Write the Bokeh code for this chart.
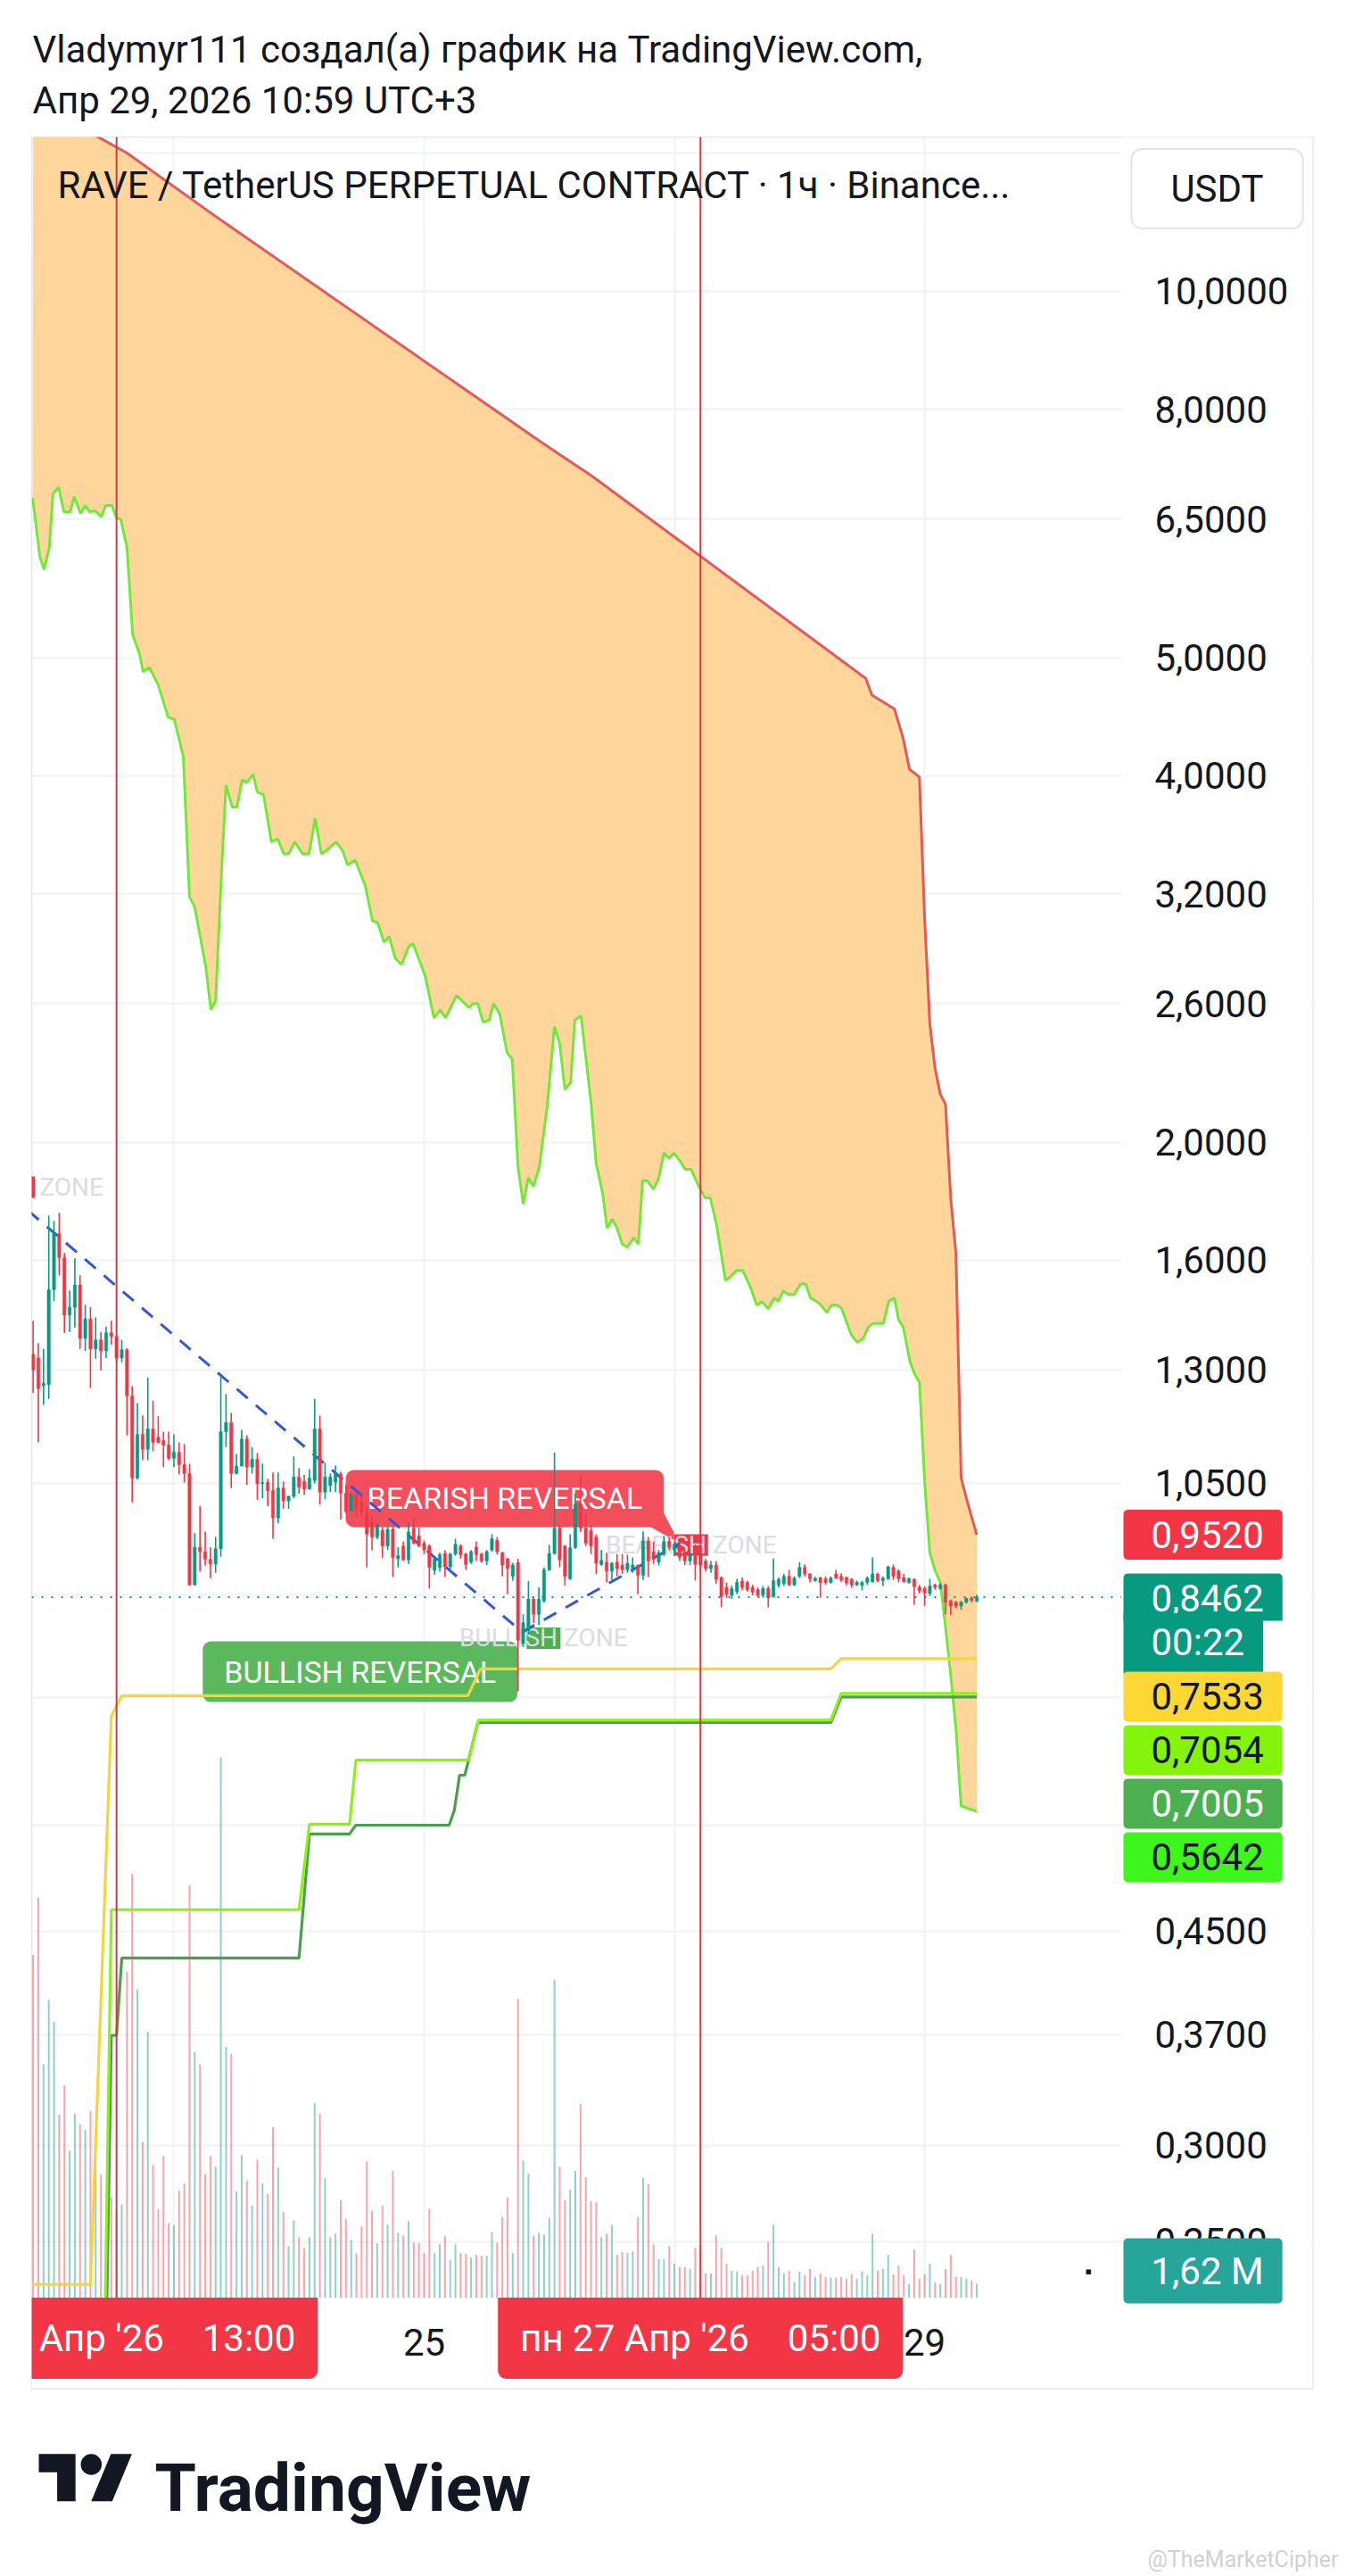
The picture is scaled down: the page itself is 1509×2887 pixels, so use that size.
import math, json
from bokeh.plotting import figure
from bokeh.models import (Range1d, LinearScale, FixedTicker, CustomJSTickFormatter,
                          Label, Spacer)
from bokeh.layouts import column, row
from bokeh.embed import file_html
from bokeh.resources import INLINE
from bokeh.core.properties import value

FONT = "Roboto"
INK = "#131722"
UP, DOWN = "#089981", "#f23645"

# ---------------- texts ----------------
header_lines = ["Vladymyr111 создал(а) график на TradingView.com,", "Апр 29, 2026 10:59 UTC+3"]
chart_title = "RAVE / TetherUS PERPETUAL CONTRACT · 1ч · Binance..."
currency = "USDT"
countdown = "00:22"
brand = "TradingView"
watermark = "@TheMarketCipher"

# ---------------- candles (1h), hours counted from Sat 25 Apr 2026 00:00 ----------------
first_hour = -75   # Tue 21 Apr 2026 21:00
opens = [1.339, 1.330, 1.262, 1.265, 1.513, 1.683, 1.608, 1.442, 1.464, 1.527,
         1.380, 1.432, 1.353, 1.376, 1.348, 1.395, 1.385, 1.330, 1.351, 1.238,
         1.060, 1.151, 1.119, 1.163, 1.145, 1.138, 1.128, 1.100, 1.113, 1.087,
         1.069, 0.866, 0.930, 0.922, 0.909, 0.901, 0.927, 1.157, 1.177, 1.069,
         1.084, 1.141, 1.082, 1.098, 1.049, 1.051, 1.035, 0.983, 1.040, 1.015,
         1.024, 1.062, 1.053, 1.038, 1.055, 1.163, 1.032, 1.045, 1.052, 1.068,
         1.030, 0.997, 1.027, 1.012, 0.990, 0.975, 0.948, 0.960, 0.932, 0.962,
         0.910, 0.932, 0.908, 0.964, 0.950, 0.937, 0.932, 0.890, 0.895, 0.919,
         0.896, 0.918, 0.932, 0.918, 0.904, 0.930, 0.918, 0.906, 0.925, 0.942,
         0.920, 0.910, 0.880, 0.903, 0.775, 0.794, 0.843, 0.819, 0.840, 0.891,
         0.919, 0.964, 0.932, 0.876, 0.929, 1.009, 0.964, 0.960, 0.948, 0.900,
         0.904, 0.889, 0.904, 0.899, 0.891, 0.893, 0.898, 0.882, 0.941, 0.922,
         0.904, 0.918, 0.940, 0.925, 0.932, 0.922, 0.906, 0.930, 0.918, 0.906,
         0.893, 0.899, 0.878, 0.862, 0.849, 0.855, 0.872, 0.870, 0.862, 0.858,
         0.849, 0.860, 0.847, 0.866, 0.868, 0.880, 0.866, 0.880, 0.895, 0.884,
         0.873, 0.878, 0.876, 0.870, 0.884, 0.880, 0.878, 0.875, 0.866, 0.865,
         0.870, 0.871, 0.884, 0.873, 0.876, 0.895, 0.889, 0.878, 0.870, 0.875,
         0.862, 0.860, 0.852, 0.866, 0.860, 0.866, 0.840, 0.838, 0.832, 0.838,
         0.845, 0.840]
highs = [1.427, 1.368, 1.353, 1.741, 1.724, 1.750, 1.622, 1.511, 1.606, 1.555,
         1.471, 1.464, 1.436, 1.397, 1.411, 1.427, 1.387, 1.376, 1.355, 1.261,
         1.221, 1.193, 1.282, 1.227, 1.191, 1.157, 1.157, 1.151, 1.134, 1.130,
         1.089, 0.955, 1.005, 0.958, 0.930, 0.948, 1.287, 1.242, 1.199, 1.109,
         1.161, 1.149, 1.124, 1.111, 1.089, 1.058, 1.071, 1.071, 1.053, 1.025,
         1.104, 1.080, 1.066, 1.078, 1.231, 1.193, 1.091, 1.069, 1.085, 1.073,
         1.046, 1.030, 1.030, 1.025, 1.006, 0.988, 0.973, 0.966, 0.970, 0.966,
         0.930, 0.940, 0.974, 0.983, 0.966, 0.942, 0.935, 0.911, 0.920, 0.925,
         0.920, 0.945, 0.935, 0.920, 0.925, 0.940, 0.920, 0.925, 0.953, 0.948,
         0.922, 0.911, 0.903, 0.910, 0.819, 0.872, 0.847, 0.862, 0.895, 0.934,
         1.112, 0.970, 0.934, 0.953, 1.029, 1.064, 0.990, 0.970, 0.953, 0.925,
         0.920, 0.904, 0.918, 0.918, 0.917, 0.912, 0.900, 0.958, 0.948, 0.940,
         0.925, 0.950, 0.948, 0.938, 0.937, 0.925, 0.922, 0.935, 0.925, 0.910,
         0.906, 0.906, 0.880, 0.870, 0.865, 0.876, 0.878, 0.873, 0.866, 0.862,
         0.864, 0.864, 0.910, 0.878, 0.884, 0.891, 0.880, 0.904, 0.900, 0.885,
         0.879, 0.879, 0.880, 0.880, 0.891, 0.885, 0.880, 0.877, 0.873, 0.872,
         0.880, 0.912, 0.886, 0.880, 0.898, 0.900, 0.892, 0.884, 0.878, 0.877,
         0.866, 0.864, 0.876, 0.868, 0.869, 0.868, 0.842, 0.840, 0.840, 0.845,
         0.847, 0.850]
lows = [1.245, 1.134, 1.217, 1.231, 1.481, 1.555, 1.394, 1.397, 1.409, 1.353,
        1.348, 1.256, 1.328, 1.299, 1.330, 1.364, 1.319, 1.319, 1.149, 1.012,
        1.057, 1.096, 1.096, 1.115, 1.132, 1.082, 1.096, 1.082, 1.067, 1.051,
        0.865, 0.865, 0.888, 0.898, 0.877, 0.886, 0.913, 1.124, 1.040, 1.067,
        1.084, 1.046, 1.069, 1.017, 1.020, 1.005, 0.945, 0.973, 1.000, 1.000,
        1.020, 1.029, 1.027, 1.037, 1.049, 1.008, 1.018, 1.032, 1.032, 0.980,
        0.992, 0.995, 0.986, 0.986, 0.895, 0.925, 0.944, 0.911, 0.925, 0.879,
        0.895, 0.906, 0.901, 0.935, 0.930, 0.918, 0.860, 0.883, 0.888, 0.879,
        0.891, 0.915, 0.910, 0.891, 0.901, 0.906, 0.903, 0.899, 0.922, 0.917,
        0.880, 0.851, 0.873, 0.708, 0.770, 0.788, 0.806, 0.803, 0.837, 0.889,
        0.917, 0.895, 0.865, 0.874, 0.927, 0.957, 0.932, 0.918, 0.884, 0.898,
        0.870, 0.874, 0.880, 0.884, 0.886, 0.886, 0.851, 0.874, 0.879, 0.901,
        0.898, 0.914, 0.925, 0.914, 0.906, 0.899, 0.899, 0.873, 0.888, 0.888,
        0.886, 0.868, 0.830, 0.845, 0.843, 0.851, 0.857, 0.855, 0.849, 0.846,
        0.845, 0.830, 0.845, 0.862, 0.864, 0.864, 0.864, 0.877, 0.880, 0.870,
        0.871, 0.845, 0.866, 0.868, 0.876, 0.871, 0.865, 0.862, 0.864, 0.857,
        0.866, 0.870, 0.870, 0.864, 0.874, 0.874, 0.870, 0.870, 0.868, 0.834,
        0.852, 0.832, 0.848, 0.858, 0.858, 0.819, 0.818, 0.828, 0.826, 0.836,
        0.838, 0.838]
closes = [1.300, 1.255, 1.268, 1.513, 1.683, 1.608, 1.442, 1.464, 1.527, 1.380,
          1.432, 1.353, 1.376, 1.348, 1.395, 1.385, 1.330, 1.351, 1.238, 1.060,
          1.151, 1.119, 1.163, 1.134, 1.134, 1.128, 1.100, 1.113, 1.087, 1.069,
          0.866, 0.930, 0.922, 0.909, 0.901, 0.927, 1.157, 1.177, 1.069, 1.084,
          1.141, 1.082, 1.098, 1.049, 1.051, 1.035, 0.983, 1.040, 1.015, 1.024,
          1.062, 1.042, 1.038, 1.060, 1.163, 1.032, 1.062, 1.062, 1.068, 1.030,
          0.995, 1.027, 1.002, 0.995, 0.953, 0.948, 0.970, 0.932, 0.962, 0.912,
          0.915, 0.908, 0.957, 0.937, 0.932, 0.925, 0.895, 0.909, 0.917, 0.896,
          0.918, 0.935, 0.917, 0.900, 0.922, 0.917, 0.906, 0.922, 0.945, 0.922,
          0.899, 0.893, 0.899, 0.780, 0.806, 0.843, 0.819, 0.843, 0.891, 0.919,
          0.964, 0.908, 0.880, 0.929, 1.009, 0.964, 0.937, 0.932, 0.902, 0.907,
          0.889, 0.902, 0.893, 0.891, 0.902, 0.899, 0.882, 0.941, 0.906, 0.909,
          0.920, 0.940, 0.930, 0.935, 0.912, 0.906, 0.918, 0.900, 0.899, 0.893,
          0.899, 0.875, 0.847, 0.851, 0.860, 0.870, 0.862, 0.858, 0.854, 0.849,
          0.860, 0.845, 0.873, 0.875, 0.880, 0.866, 0.877, 0.895, 0.884, 0.876,
          0.877, 0.870, 0.870, 0.877, 0.877, 0.874, 0.869, 0.866, 0.870, 0.870,
          0.877, 0.884, 0.873, 0.877, 0.896, 0.880, 0.876, 0.871, 0.876, 0.863,
          0.856, 0.853, 0.864, 0.862, 0.866, 0.838, 0.832, 0.832, 0.838, 0.844,
          0.841, 0.8462]
volume_m = [38.9, 45.4, 26.5, 33.8, 31.3, 20.8, 24.1, 16.7, 20.9, 19.7,
            19.1, 21.2, 15.7, 14.0, 6.7, 11.4, 10.0, 10.6, 37.0, 48.1,
            35.0, 17.7, 30.2, 15.1, 10.1, 16.1, 8.5, 8.3, 12.2, 13.0,
            46.8, 27.9, 26.5, 14.0, 16.1, 14.9, 61.3, 28.5, 27.7, 12.1,
            16.2, 13.3, 10.5, 15.7, 13.0, 11.8, 19.4, 14.8, 9.8, 5.9,
            8.8, 6.9, 5.7, 6.9, 22.1, 20.9, 13.6, 6.9, 7.3, 11.1,
            9.0, 6.6, 5.1, 8.1, 15.5, 9.9, 6.2, 10.5, 8.3, 14.4,
            7.4, 7.1, 8.7, 6.3, 6.2, 5.1, 10.1, 5.1, 6.1, 7.0,
            4.3, 6.1, 5.1, 5.0, 4.6, 4.9, 4.8, 4.8, 7.5, 6.3,
            9.2, 11.4, 5.1, 33.9, 15.6, 14.1, 7.1, 7.4, 7.2, 9.1,
            36.1, 14.9, 11.1, 12.3, 14.4, 22.0, 13.7, 11.0, 10.9, 6.9,
            7.3, 8.3, 4.9, 5.2, 5.1, 5.3, 9.2, 13.6, 12.9, 6.1,
            4.4, 4.4, 5.9, 3.9, 3.5, 3.5, 3.3, 5.7, 5.9, 2.8,
            2.8, 7.1, 5.7, 3.9, 3.1, 3.0, 2.6, 2.6, 3.1, 3.5,
            3.7, 6.4, 8.3, 3.5, 2.8, 3.1, 1.8, 3.0, 2.6, 3.3,
            2.4, 2.8, 2.4, 2.3, 2.3, 2.4, 2.2, 2.7, 2.2, 3.0,
            2.6, 7.3, 3.1, 3.3, 4.9, 2.7, 3.7, 2.6, 1.6, 5.5,
            2.2, 2.7, 3.9, 1.8, 1.6, 3.3, 4.9, 2.4, 2.4, 2.2,
            2.0, 1.62]
hours = [first_hour + i for i in range(len(closes))]

# ---------------- indicator lines (hour, price) ----------------
cloud_upper = [(-75, 14.3), (-63.5, 13.46), (-57, 12.99), (-40.2, 11.54), (22.2, 7.53),
               (32, 7.06), (84.7, 4.81), (85.9, 4.66), (90.2, 4.54), (91.9, 4.29),
               (93.1, 4.05), (95, 3.99), (96, 3.05), (97, 2.50), (98, 2.30), (99, 2.19),
               (100, 2.15), (101, 1.80), (102, 1.62), (103, 1.06), (104, 1.02),
               (105, 0.985), (106, 0.952)]
cloud_lower = [(-75.1, 6.77), (-73.7, 6.05), (-72.9, 5.91), (-71.9, 6.16), (-71.2, 6.82),
               (-70.1, 6.90), (-69.1, 6.59), (-67.9, 6.59), (-67.1, 6.78), (-65.9, 6.57),
               (-65.0, 6.67), (-64.2, 6.59), (-63.1, 6.60), (-61.9, 6.53), (-61.1, 6.67),
               (-59.9, 6.67), (-59.0, 6.51), (-58.2, 6.50), (-57.0, 6.16), (-55.9, 5.22),
               (-54.6, 5.04), (-53.9, 4.87), (-52.7, 4.91), (-51.0, 4.75), (-49.1, 4.47),
               (-47.9, 4.45), (-46.2, 4.15), (-45.0, 3.18), (-44.0, 3.12), (-41.9, 2.79),
               (-40.9, 2.57), (-40.0, 2.61), (-38.8, 3.38), (-38.0, 3.93), (-36.8, 3.77),
               (-35.9, 3.77), (-34.9, 3.97), (-34.0, 3.95), (-32.8, 4.01), (-32.0, 3.88),
               (-30.8, 3.86), (-29.3, 3.53), (-28.1, 3.55), (-26.9, 3.45), (-26.0, 3.45),
               (-24.8, 3.53), (-23.3, 3.45), (-22.1, 3.45), (-20.9, 3.69), (-19.7, 3.45),
               (-18.5, 3.48), (-16.9, 3.53), (-15.6, 3.47), (-14.7, 3.38), (-13.2, 3.41),
               (-11.3, 3.25), (-9.9, 3.04), (-8.9, 3.03), (-7.7, 2.92), (-6.7, 2.95),
               (-5.5, 2.83), (-4.3, 2.80), (-2.9, 2.90), (-2.1, 2.91), (0.2, 2.74),
               (1.9, 2.53), (3.1, 2.57), (4.1, 2.53), (6.2, 2.64), (7.4, 2.61),
               (8.6, 2.58), (9.4, 2.60), (10.3, 2.60), (11.3, 2.51), (12.5, 2.52),
               (13.3, 2.60), (14.5, 2.55), (15.9, 2.37), (16.9, 2.34), (18.0, 1.91),
               (19.0, 1.78), (20.0, 1.87), (21.0, 1.84), (22.1, 1.91), (23.6, 2.14),
               (25.0, 2.49), (26.0, 2.41), (27.0, 2.21), (28.1, 2.24), (28.9, 2.52),
               (30.1, 2.54), (32.0, 2.16), (33.0, 1.92), (34.2, 1.82), (35.1, 1.70),
               (36.1, 1.73), (37.0, 1.70), (38.0, 1.65), (39.0, 1.64), (40.2, 1.67),
               (41.1, 1.65), (41.9, 1.86), (42.8, 1.86), (44.0, 1.83), (45.0, 1.87),
               (46.0, 1.96), (47.0, 1.94), (47.9, 1.96), (49.1, 1.93), (50.1, 1.90),
               (51.2, 1.90), (52.7, 1.84), (53.9, 1.80), (54.9, 1.80), (56.1, 1.71),
               (57.8, 1.54), (58.7, 1.55), (59.9, 1.57), (61.1, 1.57), (62.6, 1.52),
               (63.8, 1.47), (64.8, 1.48), (66.0, 1.46), (67.2, 1.49), (67.9, 1.48),
               (68.9, 1.51), (69.8, 1.50), (71.0, 1.50), (72.2, 1.53), (73.2, 1.53),
               (74.1, 1.49), (75.3, 1.48), (76.1, 1.47), (77.2, 1.45), (78.2, 1.47),
               (79.2, 1.47), (80.1, 1.46), (81.9, 1.39), (83.1, 1.37), (84.2, 1.38),
               (85.2, 1.41), (86.1, 1.42), (87.3, 1.42), (88.1, 1.42), (89.1, 1.48),
               (90.2, 1.49), (91.0, 1.43), (91.9, 1.41), (93.2, 1.32), (94.1, 1.29),
               (95.0, 1.27), (96.0, 1.053), (97.0, 0.92), (98.0, 0.89), (99.0, 0.87),
               (100.0, 0.80), (101.0, 0.73), (102.0, 0.66), (103.0, 0.57), (106.0, 0.5642)]
trail_yellow = [(-75.3, 0.2306), (-64, 0.2306), (-60, 0.675), (-58, 0.7022), (8.4, 0.7022),
                (10.8, 0.7387), (78, 0.7387), (80, 0.7533), (106, 0.7533)]
trail_lime = [(-61.3, 0.205), (-60, 0.4685), (-24, 0.4685), (-22, 0.5507), (-14.3, 0.5507),
              (-13.1, 0.6217), (8.6, 0.6217), (10.4, 0.6704), (78, 0.6704), (80, 0.7054),
              (106, 0.7054)]
trail_green = [(-61.0, 0.205), (-60, 0.3693), (-59, 0.3693), (-58, 0.4276), (-24, 0.4276),
               (-22, 0.5406), (-14.3, 0.5406), (-13.1, 0.5497), (4.8, 0.5497), (5.8, 0.5657),
               (6.8, 0.6042), (7.8, 0.6042), (10.3, 0.6677), (78, 0.6677), (80, 0.7005),
               (106, 0.7005)]
zigzag = [(-76, 1.758), (-39, 1.287), (18.8, 0.792), (49.1, 0.937)]

zone_hours = [-77.9, 51.2, 22.9]
zone_prices = [1.837, 0.934, 0.783]
zone_sides = ["BEARISH", "BEARISH", "BULLISH"]
bear_signal_bar, bull_signal_bar = 124, 93

day_ticks = [-48, 0, 48, 96]
day_labels = ["23", "25", "27", "29"]
price_ticks = [13, 10, 8, 6.5, 5, 4, 3.2, 2.6, 2, 1.6, 1.3, 1.05, 0.85, 0.7, 0.55, 0.45, 0.37, 0.3, 0.25]
hidden_price_ticks = [13, 0.85, 0.7, 0.55]
vline_hours = [-59, 53]
vline_labels = ["ср 22 Апр '26\u200313:00", "пн 27 Апр '26\u200305:00"]

# ---------------- geometry of the main chart ----------------
FIG_W, FIG_H = 1438, 2525          # whole chart box (pane + price scale + time scale)
PANE_W, PANE_H = 1222, 2422        # price pane
X0, X_EDGE = -75.28, 133.79        # hours at pane left / right edge
Y1, Y0 = 13.39, 0.22475            # prices at pane top / bottom
VOL_MAX = 245.0
PXH = PANE_W / (X_EDGE - X0)
PPD = PANE_H / (math.log10(Y1) - math.log10(Y0))
XF = X0 + FIG_W / PXH
YF = 10 ** (math.log10(Y1) - FIG_H / PPD)
VOL0 = -(FIG_H - PANE_H) * VOL_MAX / PANE_H

def ypx(v):          # pixels from frame top
    return (math.log10(Y1) - math.log10(v)) * PPD

def shift_h(h, dx):  # move dx screen px right
    return h + dx / PXH

def shift_v(v, dy):  # move dy screen px down
    return v * 10 ** (-dy / PPD)

def split(pairs):
    return [a for a, _ in pairs], [b for _, b in pairs]

p = figure(width=FIG_W, height=FIG_H, x_range=Range1d(X0, XF), y_range=Range1d(YF, Y1),
           y_axis_type="log", y_axis_location="right", toolbar_location=None,
           output_backend="svg", min_border=0, title_location=None)
p.outline_line_color = "#e6e8ec"
p.outline_line_width = 2
p.background_fill_color = "white"
p.border_fill_color = "white"
p.extra_y_ranges = {"vol": Range1d(VOL0, VOL_MAX)}
p.extra_y_scales = {"vol": LinearScale()}

xt = FixedTicker(ticks=day_ticks)
yt = FixedTicker(ticks=price_ticks, minor_ticks=[])
p.xaxis.ticker = xt
p.xgrid.ticker = xt
p.yaxis.ticker = yt
p.ygrid.ticker = yt
p.xaxis.fixed_location = Y0
p.yaxis.fixed_location = X_EDGE
p.xaxis.formatter = CustomJSTickFormatter(
    code="const m = %s; const k = String(Math.round(tick)); return (k in m) ? m[k] : '';"
    % json.dumps({str(t): l for t, l in zip(day_ticks, day_labels)}))
p.yaxis.formatter = CustomJSTickFormatter(
    code="const hid = %s; for (const h of hid) { if (Math.abs(tick - h) < 1e-6) return ''; }"
         " return tick.toFixed(4).replace('.', ',');" % json.dumps(hidden_price_ticks))
for ax in (p.xaxis[0], p.yaxis[0]):
    ax.axis_line_color = None
    ax.major_tick_line_color = None
    ax.minor_tick_line_color = None
    ax.major_label_text_font = FONT
    ax.major_label_text_font_size = "42px"
    ax.major_label_text_color = INK
p.yaxis.major_label_standoff = 31
p.xaxis.major_label_standoff = 28
for g in (p.xgrid[0], p.ygrid[0]):
    g.grid_line_color = "#f0f2f6"
    g.grid_line_width = 2

# reversal labels (drawn beneath everything)
bh, bv = hours[bear_signal_bar], highs[bear_signal_bar]
p.add_layout(Label(x=shift_h(bh, -196), y=shift_v(bv, -50), text="BEARISH REVERSAL",
                   text_align="center", text_baseline="middle", text_font=FONT,
                   text_font_size="34px", text_color="white", background_fill_color="#f24e5b",
                   border_radius=9, padding=dict(left=24, right=24, top=12, bottom=12),
                   level="underlay"))
p.patch(x=[bh, shift_h(bh, -19), shift_h(bh, -34)],
        y=[bv, shift_v(bv, -36), shift_v(bv, -19)], fill_color="#f24e5b", line_color=None,
        level="underlay")
uh, uv = hours[bull_signal_bar], lows[bull_signal_bar]
p.add_layout(Label(x=shift_h(uh, -177), y=shift_v(uv, -22), text="BULLISH REVERSAL",
                   text_align="center", text_baseline="middle", text_font=FONT,
                   text_font_size="34px", text_color="white", background_fill_color="#5cb85c",
                   border_radius=9, padding=dict(left=24, right=24, top=14, bottom=14),
                   level="underlay"))

# volume
vol_colors = [UP if c >= o else DOWN for o, c in zip(opens, closes)]
p.vbar(x=hours, top=volume_m, bottom=0, width=0.34, y_range_name="vol",
       fill_color=vol_colors, line_color=None, fill_alpha=0.45)

# cloud
uh_, uv_ = split(cloud_upper)
lh_, lv_ = split(cloud_lower)
p.patch(x=uh_ + lh_[::-1], y=uv_ + lv_[::-1], fill_color="#fed59b", line_color=None)
p.line(uh_, uv_, line_color="#e25a5e", line_width=3)
p.line(lh_, lv_, line_color="#72e83b", line_width=3)

# trailing levels
for pts, col in ((trail_yellow, "#f5d53c"), (trail_green, "#4c9f50"), (trail_lime, "#8cf01a")):
    hx, vy = split(pts)
    p.line(hx, vy, line_color=col, line_width=3.2)

# zones
zone_cols = [DOWN if s == "BEARISH" else "#4caf50" for s in zone_sides]
p.rect(x=zone_hours, y=zone_prices, width=38, height=24, width_units="screen",
       height_units="screen", fill_color=zone_cols, line_color=None)
p.text(x=zone_hours, y=zone_prices, text=[s + " ZONE" for s in zone_sides],
       text_align="center", text_baseline="middle", text_font=value(FONT),
       text_font_size=value("28px"), text_color="#d9dce2")

# zigzag
zx, zy = split(zigzag)
p.line(zx, zy, line_color="#3557d4", line_width=3, line_dash="16 12")

# candles
cols = [UP if c >= o else DOWN for o, c in zip(opens, closes)]
p.segment(x0=hours, y0=lows, x1=hours, y1=highs, line_color=cols, line_width=1.6)
p.vbar(x=hours, top=[max(o, c) for o, c in zip(opens, closes)],
       bottom=[min(o, c) for o, c in zip(opens, closes)], width=0.58,
       fill_color=cols, line_color=cols, line_width=0.5)

# vertical markers and last-price line (limited to the price pane)
p.segment(x0=vline_hours, y0=[Y0] * len(vline_hours), x1=vline_hours, y1=[Y1] * len(vline_hours),
          line_color="#d23a45", line_width=2)
p.segment(x0=[X0], y0=[closes[-1]], x1=[X_EDGE], y1=[closes[-1]], line_color=UP,
          line_width=2, line_dash="2 9")

# blank price-scale and time-scale strips
p.quad(left=[X_EDGE, X0], right=[shift_h(XF, -3), shift_h(XF, -3)],
       bottom=[shift_v(YF, -3), shift_v(YF, -3)], top=[Y1, Y0],
       fill_color="white", line_color=None)

# legend title and currency box
p.add_layout(Label(x=29, y=FIG_H - 54, x_units="screen", y_units="screen", text=chart_title,
                   text_font=FONT, text_font_size="42px", text_color=INK,
                   text_baseline="middle", text_align="left"))
p.add_layout(Label(x=PANE_W + 107, y=FIG_H - 58, x_units="screen", y_units="screen",
                   text=currency, text_font=FONT, text_font_size="42px", text_color=INK,
                   text_baseline="middle", text_align="center", background_fill_color="white",
                   border_line_color="#e0e3eb", border_line_width=2, border_radius=12,
                   padding=dict(left=44, right=44, top=20, bottom=20)))

# time labels on the time scale
for h, t in zip(vline_hours, vline_labels):
    p.add_layout(Label(x=h, y=FIG_H - PANE_H - 45, x_units="data", y_units="screen", text=t,
                       text_font=FONT, text_font_size="42px", text_color="white",
                       text_align="center", text_baseline="middle",
                       background_fill_color=DOWN,
                       border_radius=dict(top_left=0, top_right=0, bottom_right=9, bottom_left=9),
                       padding=dict(left=25, right=25, top=21, bottom=21)))

# price-scale value boxes (stacked so they do not overlap)
def fmt(v):
    return ("%.4f" % v).replace(".", ",")

ROUND_ALL = 5
ROUND_TOP = dict(top_left=5, top_right=5, bottom_right=0, bottom_left=0)
ROUND_BOT = dict(top_left=0, top_right=0, bottom_right=5, bottom_left=5)
# parts: (text, box height, pad top, pad bottom, radius)
marks = [
    (uv_[-1], [(fmt(uv_[-1]), 57, 13, 13, ROUND_ALL)], DOWN, "white"),
    (closes[-1], [(fmt(closes[-1]), 54, 13, 10, ROUND_TOP), (countdown, 53, 8, 14, ROUND_BOT)],
     UP, "white"),
    (trail_yellow[-1][1], [(fmt(trail_yellow[-1][1]), 57, 13, 13, ROUND_ALL)], "#fdd835", INK),
    (trail_lime[-1][1], [(fmt(trail_lime[-1][1]), 57, 13, 13, ROUND_ALL)], "#84f40c", INK),
    (trail_green[-1][1], [(fmt(trail_green[-1][1]), 57, 13, 13, ROUND_ALL)], "#4caf50", "white"),
    (lv_[-1], [(fmt(lv_[-1]), 57, 13, 13, ROUND_ALL)], "#3ef51c", INK),
]
GAP = 3
BOX_X = PANE_W + 2
prev_bottom = -1e9
for v, parts, bg, fg in marks:
    total = sum(ph for _, ph, _, _, _ in parts)
    top = max(ypx(v) - parts[0][1] / 2, prev_bottom + GAP)
    prev_bottom = top + total
    y = top
    for t, ph, pt, pb, rad in parts:
        p.add_layout(Label(x=BOX_X, y=FIG_H - (y + ph / 2), x_units="screen",
                           y_units="screen", text=t, text_font=FONT, text_font_size="42px",
                           text_color=fg, text_align="left", text_baseline="middle",
                           background_fill_color=bg, border_radius=rad,
                           padding=dict(left=31, right=21, top=pt, bottom=pb)))
        y += ph

vol_px = PANE_H - volume_m[-1] / VOL_MAX * PANE_H
vol_center = min(vol_px, PANE_H - 2 - 57 / 2)
p.add_layout(Label(x=BOX_X, y=FIG_H - vol_center, x_units="screen", y_units="screen",
                   text=("%.2f M" % volume_m[-1]).replace(".", ","), text_font=FONT,
                   text_font_size="42px", text_color="white", text_align="left",
                   text_baseline="middle", background_fill_color="#26a69a", border_radius=5,
                   padding=dict(left=31, right=21, top=12, bottom=12)))
p.add_layout(Label(x=PANE_W - 37, y=FIG_H - vol_center, x_units="screen", y_units="screen",
                   text="\u25aa", text_font=FONT, text_font_size="22px", text_color=INK,
                   text_align="center", text_baseline="middle"))

# ---------------- header ----------------
HW, HH = 1500, 153
head = figure(width=HW, height=HH, x_range=Range1d(0, HW), y_range=Range1d(HH, 0),
              x_axis_type=None, y_axis_type=None, toolbar_location=None, output_backend="svg",
              min_border=0, outline_line_color=None, title_location=None)
head.text(x=[36, 36], y=[55, 112], text=header_lines, text_font=value(FONT),
          text_font_size=value("42px"), text_color=INK, text_baseline="middle")

# ---------------- footer ----------------
FTW, FTH = 1500, 205
foot = figure(width=FTW, height=FTH, x_range=Range1d(0, FTW), y_range=Range1d(FTH, 0),
              x_axis_type=None, y_axis_type=None, toolbar_location=None, output_backend="svg",
              min_border=0, outline_line_color=None, title_location=None)
logo_scale, logo_ox, logo_oy = 2.94, 43, 60
logo_bar = [(0, 4), (14, 4), (14, 22), (7, 22), (7, 11), (0, 11)]
logo_slash = [(20, 22), (27.5, 4), (35.5, 4), (28, 22)]
logo_dot = (20, 8, 4)
for shape in (logo_bar, logo_slash):
    foot.patch(x=[logo_ox + a * logo_scale for a, _ in shape],
               y=[logo_oy + b * logo_scale for _, b in shape], fill_color=INK, line_color=None)
foot.circle(x=[logo_ox + logo_dot[0] * logo_scale], y=[logo_oy + logo_dot[1] * logo_scale],
            radius=logo_dot[2] * logo_scale, fill_color=INK, line_color=None)
foot.text(x=[173], y=[109], text=[brand], text_font=value(FONT), text_font_size=value("75px"),
          text_font_style="bold", text_color=INK, text_baseline="alphabetic")
foot.text(x=[1500], y=[190], text=[watermark], text_font=value(FONT),
          text_font_size=value("25px"), text_color="#cfd1d6", text_baseline="middle",
          text_align="right")

layout = column(head, row(Spacer(width=35, height=FIG_H), p), foot)
open("out.html", "w").write(file_html(layout, INLINE))
